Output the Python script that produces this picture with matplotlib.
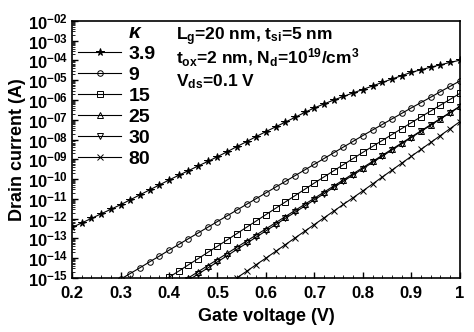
import numpy as np
import matplotlib
matplotlib.use("Agg")
import matplotlib.pyplot as plt
from matplotlib.ticker import FixedLocator, MultipleLocator, FuncFormatter

plt.rcParams["font.family"] = ["Liberation Sans", "DejaVu Sans"]
plt.rcParams["font.weight"] = "bold"
plt.rcParams["mathtext.fontset"] = "custom"
plt.rcParams["mathtext.rm"] = "Liberation Sans"
plt.rcParams["mathtext.bf"] = "Liberation Sans:bold"
plt.rcParams["mathtext.it"] = "Liberation Sans:bold:italic"

# ------------------------------------------------------------
# data (log10 of drain current)
# ------------------------------------------------------------
kappa = ["3.9", "9", "15", "25", "30", "80"]

vg_39 = np.round(np.arange(0.20, 1.001, 0.02), 2)
log_id_39 = [-12.45, -12.22, -11.99, -11.76, -11.53, -11.30, -11.05, -10.80,
             -10.55, -10.30, -10.05, -9.81, -9.58, -9.34, -9.11, -8.87,
             -8.62, -8.36, -8.11, -7.85, -7.60, -7.36, -7.12, -6.88, -6.63,
             -6.40, -6.20, -6.00, -5.82, -5.64, -5.47, -5.29, -5.11, -4.94,
             -4.77, -4.60, -4.47, -4.34, -4.22, -4.10, -3.99]

vg_9 = np.round(np.arange(0.30, 1.001, 0.02), 2)
log_id_9 = [-15.07, -14.78, -14.49, -14.19, -13.90, -13.60, -13.31, -13.02,
            -12.73, -12.44, -12.15, -11.86, -11.57, -11.28, -10.99, -10.70,
            -10.41, -10.12, -9.83, -9.54, -9.25, -8.96, -8.67, -8.38, -8.09,
            -7.80, -7.52, -7.24, -6.96, -6.68, -6.40, -6.13, -5.86, -5.58,
            -5.31, -5.04]

vg_15 = np.round(np.arange(0.38, 1.001, 0.02), 2)
log_id_15 = [-15.28, -14.97, -14.66, -14.34, -14.03, -13.71, -13.40, -13.08,
             -12.76, -12.44, -12.12, -11.80, -11.48, -11.16, -10.84, -10.52,
             -10.20, -9.89, -9.58, -9.27, -8.96, -8.65, -8.35, -8.05, -7.75,
             -7.45, -7.15, -6.85, -6.56, -6.26, -5.97, -5.67]

vg_25 = np.round(np.arange(0.42, 1.001, 0.02), 2)
log_id_25 = [-15.31, -15.00, -14.69, -14.38, -14.07, -13.76, -13.45, -13.14,
             -12.83, -12.52, -12.21, -11.90, -11.59, -11.28, -10.97, -10.66,
             -10.35, -10.04, -9.73, -9.42, -9.11, -8.80, -8.49, -8.18, -7.87,
             -7.56, -7.25, -6.94, -6.63, -6.32]

vg_30 = np.round(np.arange(0.44, 1.001, 0.02), 2)
log_id_30 = [-15.12, -14.81, -14.50, -14.19, -13.88, -13.56, -13.25, -12.94,
             -12.62, -12.31, -11.99, -11.68, -11.37, -11.05, -10.74, -10.42,
             -10.11, -9.79, -9.48, -9.16, -8.85, -8.53, -8.22, -7.90, -7.59,
             -7.28, -6.96, -6.65, -6.34]

vg_80 = np.round(np.arange(0.52, 1.001, 0.02), 2)
log_id_80 = [-15.33, -15.00, -14.67, -14.33, -14.00, -13.66, -13.32, -12.98,
             -12.64, -12.30, -11.96, -11.62, -11.28, -10.94, -10.60, -10.25,
             -9.90, -9.55, -9.20, -8.85, -8.50, -8.15, -7.80, -7.45, -7.10]

# marker, size, face colour
series = [
    (vg_39, log_id_39, "*", 5.5, "black"),
    (vg_9, log_id_9, "o", 4, "none"),
    (vg_15, log_id_15, "s", 4.8, "none"),
    (vg_25, log_id_25, "^", 4.8, "none"),
    (vg_30, log_id_30, "v", 4.8, "none"),
    (vg_80, log_id_80, "x", 5, "none"),
]

# ------------------------------------------------------------
# figure
# ------------------------------------------------------------
fig = plt.figure(figsize=(4.74, 3.32), dpi=100)
ax = fig.add_axes([0.152, 0.163, 0.818, 0.774])

for (vg, lid, mk, ms, fc), lab in zip(series, kappa):
    ax.semilogy(vg, 10.0 ** np.array(lid), color="black", lw=0.8,
                marker=mk, ms=ms, mfc=fc, mec="black", mew=0.7,
                label=lab)

ax.set_xlim(0.2, 1.0)
ax.set_ylim(1e-15, 1e-2)

ax.xaxis.set_major_locator(MultipleLocator(0.1))
ax.xaxis.set_minor_locator(MultipleLocator(0.02))
ax.xaxis.set_major_formatter(FuncFormatter(lambda v, p: "1" if abs(v - 1) < 1e-6 else f"{v:.1f}"))

ax.yaxis.set_major_locator(FixedLocator([10.0 ** e for e in range(-15, -1)]))
ax.yaxis.set_minor_locator(FixedLocator([m * 10.0 ** e for e in range(-15, -2) for m in range(2, 10)]))


def ylab(v, p):
    e = int(round(np.log10(v)))
    return r"$\mathbf{10}^{\mathrm{-%02d}}$" % abs(e)


ax.yaxis.set_major_formatter(FuncFormatter(ylab))

ax.tick_params(which="both", direction="in", top=False, right=False)
ax.tick_params(axis="x", which="major", pad=6)
ax.tick_params(which="major", length=4, width=1, labelsize=12)
ax.tick_params(axis="y", which="major", pad=3)
ax.tick_params(which="minor", length=2, width=0.6)
for s in ax.spines.values():
    s.set_linewidth(1.2)

ax.set_xlabel("Gate voltage (V)", fontsize=13, fontweight="bold", labelpad=5)
ax.set_ylabel("Drain current (A)", fontsize=13, fontweight="bold", labelpad=1)

ax.legend(loc="upper left", bbox_to_anchor=(0.016, 0.905), frameon=False,
          fontsize=14, handlelength=2.2, handletextpad=0.4,
          labelspacing=0.17, borderaxespad=0.0, borderpad=0.0)
ax.text(0.144, 0.953, r"$\kappa$", transform=ax.transAxes, ha="left",
        va="center", fontsize=15)

lines = ["L$_\\mathbf{g}$=20 nm, t$_\\mathbf{si}$=5 nm",
         "t$_\\mathbf{ox}$=2 nm, N$_\\mathbf{d}$=10$^{\\mathbf{19}}$/cm$^{\\mathbf{3}}$",
         "V$_\\mathbf{ds}$=0.1 V"]
for yy, s in zip([0.924, 0.835, 0.747], lines):
    ax.text(0.268, yy, s, transform=ax.transAxes, ha="left", va="baseline",
            fontsize=12.5)

fig.savefig("out.png", dpi=100)
